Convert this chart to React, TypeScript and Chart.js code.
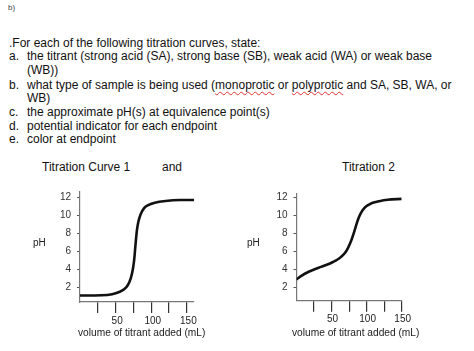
import React, { useEffect, useRef } from "react";
import { Chart, registerables } from "chart.js";

Chart.register(...registerables);

// ---- data ----
const curve1Volume = [0, 30, 45, 55, 62, 67, 71, 74, 76, 78, 80, 82, 85, 90, 95, 105, 120, 140, 160];
const curve1PH = [1.05, 1.08, 1.2, 1.45, 1.75, 2.2, 2.9, 3.9, 5.0, 6.8, 8.4, 9.3, 10.1, 10.8, 11.1, 11.4, 11.6, 11.7, 11.7];
const curve2Volume = [0, 8, 16, 25, 35, 45, 52, 58, 64, 69, 73, 76, 79, 82, 85, 88, 91, 94, 97, 100, 104, 110, 118, 130, 150];
const curve2PH = [2.85, 3.3, 3.65, 3.95, 4.25, 4.55, 4.8, 5.05, 5.4, 5.8, 6.3, 6.8, 7.4, 8.1, 8.9, 9.6, 10.15, 10.55, 10.85, 11.05, 11.25, 11.45, 11.6, 11.75, 11.85];
const xTickValues = [25, 50, 75, 100, 125, 150];
const xTickLabels = ["", "50", "", "100", "", "150"];
const yTickValues = [2, 4, 6, 8, 10, 12];
const yTickLabels = ["2", "4", "6", "8", "10", "12"];
const xAxisTitle = "volume of titrant added (mL)";
const yAxisTitle = "pH";

const TEXT_FONT = "'Liberation Sans', Arial, sans-serif";

type CurveProps = {
  volume: number[];
  ph: number[];
  xMax: number;
  yMin: number;
  yMax: number;
  width: number;
  height: number;
  yAxisWidth: number;
  labelOffset: number;
  padding: { left: number; right: number; top: number; bottom: number };
};

function TitrationChart(props: CurveProps) {
  const ref = useRef<HTMLCanvasElement | null>(null);
  useEffect(() => {
    if (!ref.current) return;
    const tickFont = { family: TEXT_FONT, size: 10 };
    const chart = new Chart(ref.current, {
      type: "line",
      data: {
        datasets: [
          {
            data: props.volume.map((v, i) => ({ x: v, y: props.ph[i] })),
            borderColor: "#111",
            borderWidth: 2.6,
            pointRadius: 0,
            fill: false,
            cubicInterpolationMode: "monotone",
          },
        ],
      },
      options: {
        animation: false,
        responsive: false,
        maintainAspectRatio: false,
        devicePixelRatio: 1,
        layout: { padding: props.padding },
        plugins: { legend: { display: false }, tooltip: { enabled: false } },
        scales: {
          x: {
            type: "linear",
            min: 0,
            max: props.xMax,
            afterBuildTicks: (s: any) => {
              s.ticks = xTickValues.map((v) => ({ value: v }));
            },
            afterFit: (s: any) => {
              s.height = 38;
            },
            grid: { drawOnChartArea: false, drawTicks: true, tickLength: 11, color: "#333", lineWidth: 1.2 },
            border: { color: "#777", width: 1.2 },
            ticks: {
              autoSkip: false,
              maxRotation: 0,
              padding: 2,
              labelOffset: props.labelOffset,
              font: tickFont,
              color: "#222",
              callback: (v: any) => {
                const i = xTickValues.indexOf(Number(v));
                return i >= 0 ? xTickLabels[i] : "";
              },
            },
          },
          y: {
            type: "linear",
            min: props.yMin,
            max: props.yMax,
            afterBuildTicks: (s: any) => {
              s.ticks = yTickValues.map((v) => ({ value: v }));
            },
            afterFit: (s: any) => {
              s.width = props.yAxisWidth;
            },
            grid: { drawOnChartArea: false, drawTicks: true, tickLength: 3, color: "#555", lineWidth: 1 },
            border: { color: "#777", width: 1.2 },
            ticks: {
              padding: 6,
              font: tickFont,
              color: "#333",
              callback: (v: any) => {
                const i = yTickValues.indexOf(Number(v));
                return i >= 0 ? yTickLabels[i] : "";
              },
            },
          },
        },
      },
    } as any);
    return () => chart.destroy();
  }, []);
  return (
    <canvas
      ref={ref}
      width={props.width}
      height={props.height}
      style={{ width: props.width, height: props.height, display: "block" }}
    />
  );
}

const abs = (left: number, top: number, extra: React.CSSProperties = {}): React.CSSProperties => ({
  position: "absolute",
  left,
  top,
  whiteSpace: "nowrap",
  ...extra,
});

const LINE_H = 14;
const lineStyle = (left: number, centerY: number): React.CSSProperties =>
  abs(left, centerY - LINE_H / 2, { fontSize: 12, lineHeight: `${LINE_H}px`, color: "#111" });

const spell: React.CSSProperties = {
  textDecorationLine: "underline",
  textDecorationStyle: "wavy",
  textDecorationColor: "#d33",
  textDecorationThickness: "1px",
  textUnderlineOffset: "2px",
};

const axisTitleStyle = (left: number, centerY: number): React.CSSProperties =>
  abs(left, centerY - 6, { fontSize: 10.2, lineHeight: "12px", color: "#222" });

export default function App() {
  return (
    <div
      style={{
        position: "absolute",
        left: 0,
        top: 0,
        width: 474,
        height: 351,
        background: "#fff",
        fontFamily: TEXT_FONT,
        overflow: "hidden",
      }}
    >
      <div style={abs(8, 3, { fontSize: 8, lineHeight: "10px", color: "#444" })}>b)</div>

      <div style={lineStyle(9, 43)}>.For each of the following titration curves, state:</div>
      <div style={lineStyle(9, 56)}>a.</div>
      <div style={lineStyle(27, 56)}>the titrant (strong acid (SA), strong base (SB), weak acid (WA) or weak base</div>
      <div style={lineStyle(27, 70)}>(WB))</div>
      <div style={lineStyle(9, 85)}>b.</div>
      <div style={lineStyle(27, 85)}>
        what type of sample is being used (<span style={spell}>monoprotic</span> or{" "}
        <span style={spell}>polyprotic</span> and SA, SB, WA, or
      </div>
      <div style={lineStyle(27, 98)}>WB)</div>
      <div style={lineStyle(9, 112)}>c.</div>
      <div style={lineStyle(27, 112)}>the approximate pH(s) at equivalence point(s)</div>
      <div style={lineStyle(9, 126)}>d.</div>
      <div style={lineStyle(27, 126)}>potential indicator for each endpoint</div>
      <div style={lineStyle(9, 139)}>e.</div>
      <div style={lineStyle(27, 139)}>color at endpoint</div>

      <div style={lineStyle(42, 167)}>Titration Curve 1</div>
      <div style={lineStyle(162, 167)}>and</div>
      <div style={lineStyle(342, 167)}>Titration 2</div>

      <div style={abs(0, 180)}>
        <TitrationChart
          volume={curve1Volume}
          ph={curve1PH}
          xMax={160}
          yMin={0.33}
          yMax={12.6}
          width={240}
          height={171}
          yAxisWidth={80}
          labelOffset={1.5}
          padding={{ left: 0, right: 46, top: 11.6, bottom: 11 }}
        />
      </div>
      <div style={abs(240, 180)}>
        <TitrationChart
          volume={curve2Volume}
          ph={curve2PH}
          xMax={150}
          yMin={0.47}
          yMax={12.4}
          width={234}
          height={171}
          yAxisWidth={56.5}
          labelOffset={1}
          padding={{ left: 0, right: 72.3, top: 14, bottom: 12.3 }}
        />
      </div>

      <div style={abs(33, 237, { fontSize: 10, lineHeight: "12px", color: "#222" })}>{yAxisTitle}</div>
      <div style={abs(247, 237, { fontSize: 10, lineHeight: "12px", color: "#222" })}>{yAxisTitle}</div>
      <div style={axisTitleStyle(78, 333)}>{xAxisTitle}</div>
      <div style={axisTitleStyle(292, 333)}>{xAxisTitle}</div>
    </div>
  );
}
